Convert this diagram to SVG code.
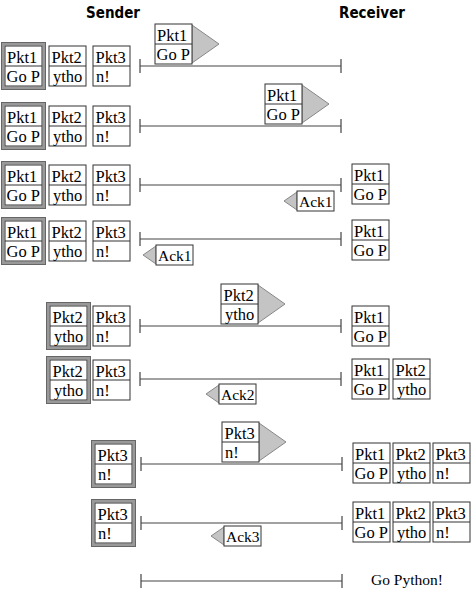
<svg xmlns="http://www.w3.org/2000/svg" width="474" height="590" viewBox="0 0 474 590">
<style>
.bx{fill:#fff;stroke:#333;stroke-width:1}
.dbl{fill:none;stroke:#999;stroke-width:3}
.dblo{fill:none;stroke:#666;stroke-width:1}
.t{font-family:"Liberation Serif","Times New Roman",serif;font-size:16.5px;fill:#000}
.ta{font-family:"Liberation Serif","Times New Roman",serif;font-size:15.5px;fill:#000}
.hd{font-family:"DejaVu Sans Condensed","DejaVu Sans",sans-serif;font-weight:bold;font-size:15px;fill:#000;text-anchor:middle}
.ln{stroke:#444;stroke-width:1.2;fill:none}
.dv{stroke:#333;stroke-width:1}
.tri{fill:#c4c4c4;stroke:#888;stroke-width:1}
</style>
<defs>
<g id="box1" font-family="Liberation Serif, serif"><rect class="bx" x="0" y="0" width="37" height="40"/><line class="dv" x1="0" y1="20" x2="37" y2="20"/><text class="t" x="2" y="16.5">Pkt1</text><text class="t" x="1.5" y="35.5">Go P</text></g>
<g id="box2" font-family="Liberation Serif, serif"><rect class="bx" x="0" y="0" width="37" height="40"/><line class="dv" x1="0" y1="20" x2="37" y2="20"/><text class="t" x="2.5" y="16.5">Pkt2</text><text class="t" x="4" y="35.5">ytho</text></g>
<g id="box3" font-family="Liberation Serif, serif"><rect class="bx" x="0" y="0" width="37" height="40"/><line class="dv" x1="0" y1="20" x2="37" y2="20"/><text class="t" x="2.5" y="16.5">Pkt3</text><text class="t" x="3" y="35.5">n!</text></g>
<g id="ring"><rect class="dbl" x="-2" y="-2" width="41" height="44"/><rect class="dblo" x="-3.5" y="-3.5" width="44" height="47"/></g>
<polygon id="fwd" class="tri" points="37,1 64,20 37,39"/>
<polygon id="back" class="tri" points="0,1 -13,10 0,19"/>
</defs>

<g id="headers">
<text class="hd" x="113" y="18">Sender</text>
<text class="hd" x="372" y="18">Receiver</text>
</g>

<g id="connectors">
<path class="ln" d="M140,66H341M140,59V73M341,59V73"/>
<path class="ln" d="M140,126H341M140,119V133M341,119V133"/>
<path class="ln" d="M140,185H341M140,178V192M341,178V192"/>
<path class="ln" d="M140,239H341M140,232V246M341,232V246"/>
<path class="ln" d="M140,326H341M140,319V333M341,319V333"/>
<path class="ln" d="M140,379H341M140,372V386M341,372V386"/>
<path class="ln" d="M141,464H342M141,457V471M342,457V471"/>
<path class="ln" d="M141,523H342M141,516V530M342,516V530"/>
<path class="ln" d="M141,581H342M141,574V588M342,574V588"/>
</g>

<!-- Row 1 -->
<g id="r1-s1" transform="translate(5,46)"><use href="#ring"/><use href="#box1"/></g>
<g id="r1-s2" transform="translate(49,46)"><use href="#box2"/></g>
<g id="r1-s3" transform="translate(93,46)"><use href="#box3"/></g>
<g id="r1-pkt" transform="translate(155,24)"><use href="#fwd"/><use href="#box1"/></g>

<!-- Row 2 -->
<g id="r2-s1" transform="translate(5,106)"><use href="#ring"/><use href="#box1"/></g>
<g id="r2-s2" transform="translate(49,106)"><use href="#box2"/></g>
<g id="r2-s3" transform="translate(93,106)"><use href="#box3"/></g>
<g id="r2-pkt" transform="translate(265,84)"><use href="#fwd"/><use href="#box1"/></g>

<!-- Row 3 -->
<g id="r3-s1" transform="translate(5,165)"><use href="#ring"/><use href="#box1"/></g>
<g id="r3-s2" transform="translate(49,165)"><use href="#box2"/></g>
<g id="r3-s3" transform="translate(93,165)"><use href="#box3"/></g>
<g id="r3-r1" transform="translate(352,164)"><use href="#box1"/></g>
<g id="r3-ack" transform="translate(297,191)"><use href="#back"/><rect class="bx" x="0" y="0" width="37" height="20"/><text class="ta" x="2" y="15.5">Ack1</text></g>

<!-- Row 4 -->
<g id="r4-s1" transform="translate(5,221)"><use href="#ring"/><use href="#box1"/></g>
<g id="r4-s2" transform="translate(49,221)"><use href="#box2"/></g>
<g id="r4-s3" transform="translate(93,221)"><use href="#box3"/></g>
<g id="r4-r1" transform="translate(352,220)"><use href="#box1"/></g>
<g id="r4-ack" transform="translate(156,245)"><use href="#back"/><rect class="bx" x="0" y="0" width="37" height="20"/><text class="ta" x="2" y="15.5">Ack1</text></g>

<!-- Row 5 -->
<g id="r5-s2" transform="translate(50,306)"><use href="#ring"/><use href="#box2"/></g>
<g id="r5-s3" transform="translate(93,306)"><use href="#box3"/></g>
<g id="r5-pkt" transform="translate(221,284)"><use href="#fwd"/><use href="#box2"/></g>
<g id="r5-r1" transform="translate(352,306)"><use href="#box1"/></g>

<!-- Row 6 -->
<g id="r6-s2" transform="translate(50,360)"><use href="#ring"/><use href="#box2"/></g>
<g id="r6-s3" transform="translate(93,360)"><use href="#box3"/></g>
<g id="r6-ack" transform="translate(219,384)"><use href="#back"/><rect class="bx" x="0" y="0" width="37" height="20"/><text class="ta" x="2" y="15.5">Ack2</text></g>
<g id="r6-r1" transform="translate(352,359)"><use href="#box1"/></g>
<g id="r6-r2" transform="translate(393,359)"><use href="#box2"/></g>

<!-- Row 7 -->
<g id="r7-s3" transform="translate(95,444)"><use href="#ring"/><use href="#box3"/></g>
<g id="r7-pkt" transform="translate(222,422)"><use href="#fwd"/><use href="#box3"/></g>
<g id="r7-r1" transform="translate(353,443)"><use href="#box1"/></g>
<g id="r7-r2" transform="translate(393,443)"><use href="#box2"/></g>
<g id="r7-r3" transform="translate(433,443)"><use href="#box3"/></g>

<!-- Row 8 -->
<g id="r8-s3" transform="translate(95,503)"><use href="#ring"/><use href="#box3"/></g>
<g id="r8-ack" transform="translate(224,526)"><use href="#back"/><rect class="bx" x="0" y="0" width="37" height="20"/><text class="ta" x="2" y="15.5">Ack3</text></g>
<g id="r8-r1" transform="translate(353,502)"><use href="#box1"/></g>
<g id="r8-r2" transform="translate(393,502)"><use href="#box2"/></g>
<g id="r8-r3" transform="translate(433,502)"><use href="#box3"/></g>

<!-- Row 9 -->
<g id="result"><text class="ta" x="371" y="585">Go Python!</text></g>
</svg>
